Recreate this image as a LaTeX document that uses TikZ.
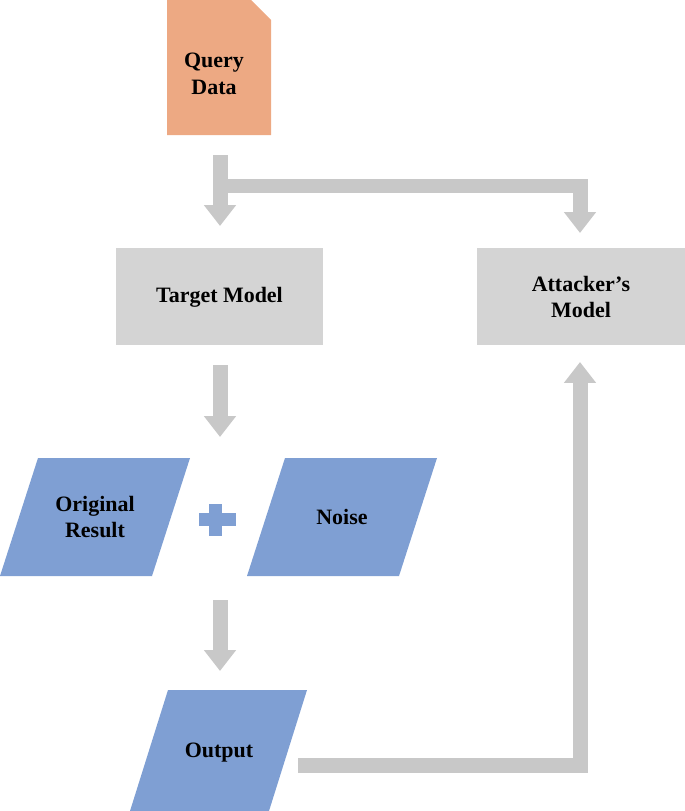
\documentclass[tikz,border=0pt]{standalone}
\usepackage{fontspec}
\setmainfont{Liberation Serif}
\usetikzlibrary{arrows.meta}
\definecolor{qdata}{HTML}{EDA983}
\definecolor{boxgray}{HTML}{D4D4D4}
\definecolor{arrgray}{HTML}{C8C8C8}
\definecolor{para}{HTML}{7F9FD3}
\tikzset{
  lbl/.style={font=\fontsize{12.5}{15}\selectfont\bfseries, align=center, text=black},
  pipe/.style={draw=arrgray, line width=0.3cm, -{Triangle[width=0.62cm,length=0.42cm]}},
  bar/.style={draw=arrgray, line width=0.3cm}
}
\begin{document}
\begin{tikzpicture}[x=0.02cm, y=-0.02cm]
\useasboundingbox (0,0) rectangle (685,811);
% query document
\fill[qdata] (167,0) -- (251,0) -- (271,20) -- (271,135) -- (167,135) -- cycle;
\node[lbl] (query) at (214,74) {Query\\Data};
% boxes
\fill[boxgray] (116,248) rectangle (323,345);
\node[lbl] (target) at (219.5,297) {Target Model};
\fill[boxgray] (477,248) rectangle (685,345);
\node[lbl] (attacker) at (581,297) {Attacker’s\\Model};
% parallelograms
\fill[para] (38,458) -- (190,458) -- (152,576) -- (0,576) -- cycle;
\node[lbl] (orig) at (95,517) {Original\\Result};
\fill[para] (285,458) -- (437,458) -- (399,576) -- (247,576) -- cycle;
\node[lbl] (noise) at (342,517) {Noise};
\fill[para] (168,690) -- (307,690) -- (269,811) -- (130,811) -- cycle;
\node[lbl] (output) at (219,753) {Output};
% plus
\fill[para] (209,504) rectangle (222,536);
\fill[para] (199,513) rectangle (236,526);
% connectors
\coordinate (q1) at (220,155);
\coordinate (q2) at (220,226);
\coordinate (b1) at (220,186);
\coordinate (b2) at (580,186);
\coordinate (b3) at (580,233);
\coordinate (t1) at (220,365);
\coordinate (t2) at (220,437);
\coordinate (p1) at (220,600);
\coordinate (p2) at (220,671);
\coordinate (o1) at (298,765);
\coordinate (o2) at (580,765);
\coordinate (o3) at (580,362);
\draw[pipe] (q1) -- (q2);
\draw[pipe] (b1) -- (b2) -- (b3);
\draw[pipe] (t1) -- (t2);
\draw[pipe] (p1) -- (p2);
\draw[pipe] (o1) -- (o2) -- (o3);
\end{tikzpicture}
\end{document}
